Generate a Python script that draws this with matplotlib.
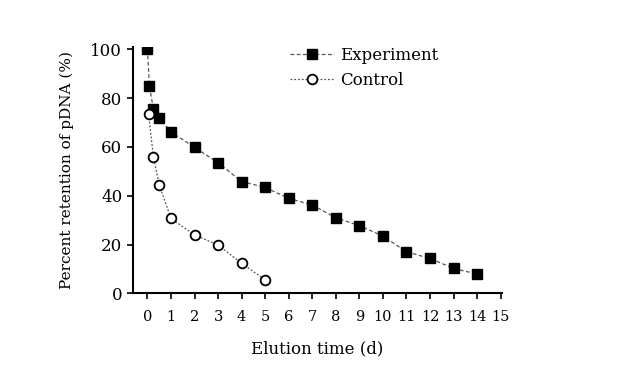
import matplotlib
matplotlib.use("Agg")
import matplotlib.pyplot as plt

exp_time = [0, 0.083, 0.25, 0.5, 1, 2, 3, 4, 5, 6, 7, 8, 9, 10, 11, 12, 13, 14]
exp_vals = [100, 85.0, 75.5, 71.7, 66.2, 59.8, 53.5, 45.8, 43.4, 38.9, 36.2, 31.0, 27.7, 23.5, 17.0, 14.3, 10.2, 7.9]
ctl_time = [0.05, 0.25, 0.5, 1, 2, 3, 4, 5]
ctl_vals = [73.4, 56.0, 44.4, 30.7, 23.9, 19.8, 12.3, 5.5]
xticks = list(range(0, 16))
yticks = [0, 20, 40, 60, 80, 100]

plt.rcParams['font.family'] = ['DejaVu Serif']

fig = plt.figure(figsize=(6.21, 3.66), dpi=100)
ax = fig.add_axes([0.2147, 0.1986, 0.808 - 0.2147, 0.872 - 0.1986])

ax.plot(exp_time, exp_vals, color='#555555', lw=0.9, ls=(0, (3, 2)),
        marker='s', ms=6.5, mfc='black', mec='black', label='Experiment')
ax.plot(ctl_time, ctl_vals, color='#555555', lw=0.9, ls=(0, (1.5, 1.5)),
        marker='o', ms=7, mfc='white', mec='black', mew=1.3, label='Control')

ax.set_xlim(-0.6, 15.05)
ax.set_ylim(0, 101)
ax.set_xticks(xticks)
ax.set_yticks(yticks)
ax.set_xticklabels([str(t) for t in xticks], fontsize=10.5)
ax.set_yticklabels([str(t) for t in yticks], fontsize=12)
ax.tick_params(axis='y', direction='out', length=4, width=1.2, pad=4)
ax.tick_params(axis='x', direction='out', length=4, width=1.2, pad=8)
for s in ['top', 'right']:
    ax.spines[s].set_visible(False)
for s in ['left', 'bottom']:
    ax.spines[s].set_linewidth(1.5)

ax.set_xlabel('Elution time (d)', fontsize=12, labelpad=12)
ax.set_ylabel('Percent retention of pDNA (%)', fontsize=11, labelpad=12)

leg = ax.legend(loc='upper left', bbox_to_anchor=(0.385, 1.06), frameon=False,
                fontsize=12, handlelength=2.6, handletextpad=0.4, labelspacing=0.45)

fig.savefig('out.png', dpi=100)
